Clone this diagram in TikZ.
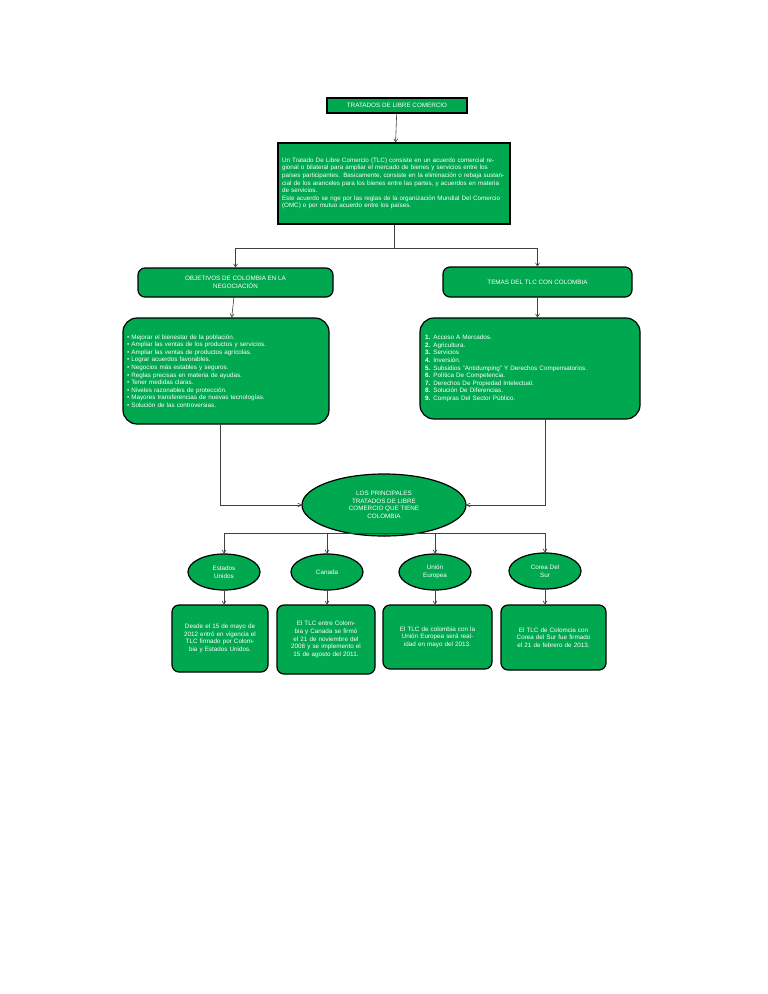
\documentclass[tikz,border=0pt]{standalone}
\usepackage{fontspec}
\setmainfont{Liberation Sans}
\usetikzlibrary{shapes.geometric,arrows.meta}
\definecolor{gr}{RGB}{0,168,80}
\begin{document}
\begin{tikzpicture}[x=1pt,y=-1pt,
 box/.style={draw=black,line width=1.2pt,fill=gr,text=white,font=\fontsize{6.3}{7.6}\selectfont,inner sep=3pt},
 rbox/.style={box,rounded corners=7pt},
 ell/.style={box,ellipse,inner sep=0pt},
 conn/.style={draw=black!75,line width=0.6pt},
 arr/.style={conn,-{Straight Barb[length=3pt,width=4pt]}}]
\path[use as bounding box,fill=white] (0,0) rectangle (768,994);
\node[box,minimum width=140pt,minimum height=15pt] (t) at (397,105.5) {TRATADOS DE LIBRE COMERCIO};
\node[box,minimum width=232pt,minimum height=81pt,align=left,text width=224pt] (d) at (394,183.5) {Un Tratado De Libre Comercio (TLC) consiste en un acuerdo comercial regional o bilateral para ampliar el mercado de bienes y servicios entre los países participantes. Basicamente, consiste en la eliminación o rebaja sustancial de los aranceles para los bienes entre las partes, y acuerdos en materia de servicios.\\Este acuerdo se rige por las reglas de la organización Mundial Del Comercio (OMC) o por mutuo acuerdo entre los países.};
\node[rbox,minimum width=195pt,minimum height=29pt,align=center] (o) at (235.5,282.5) {OBJETIVOS DE COLOMBIA EN LA\\NEGOCIACIÓN};
\node[rbox,minimum width=189pt,minimum height=30pt] (m) at (537.5,282) {TEMAS DEL TLC CON COLOMBIA};
\node[rbox,rounded corners=14pt,minimum width=206pt,minimum height=106pt,align=left,text width=198pt] (ol) at (226,371) {• Mejorar el bienestar de la población.\\• Ampliar las ventas de los productos y servicios.\\• Ampliar las ventas de productos agrícolas.\\• Lograr acuerdos favorables.\\• Negocios más estables y seguros.\\• Reglas precisas en materia de ayudas.\\• Tener medidas claras.\\• Niveles razonables de protección.\\• Mayores transferencias de nuevas tecnologías.\\• Solución de las controversias.};
\node[rbox,rounded corners=14pt,minimum width=220pt,minimum height=101pt,align=left,text width=210pt] (ml) at (530,368.5) {\textbf{1.} Acceso A Mercados.\\\textbf{2.} Agricultura.\\\textbf{3.} Servicios\\\textbf{4.} Inversión.\\\textbf{5.} Subsidios "Antidumping" Y Derechos Compensatorios.\\\textbf{6.} Política De Competencia.\\\textbf{7.} Derechos De Propiedad Intelectual.\\\textbf{8.} Solución De Diferencias.\\\textbf{9.} Compras Del Sector Público.};
\node[ell,minimum width=164pt,minimum height=62pt,align=center] (e) at (384,505) {LOS PRINCIPALES\\TRATADOS DE LIBRE\\COMERCIO QUE TIENE\\COLOMBIA};
\node[ell,minimum width=72pt,minimum height=36pt,align=center] (e1) at (224,572) {Estados\\Unidos};
\node[ell,minimum width=72pt,minimum height=36pt,align=center] (e2) at (327,572) {Canada};
\node[ell,minimum width=72pt,minimum height=36pt,align=center] (e3) at (435,572) {Unión\\Europea};
\node[ell,minimum width=72pt,minimum height=36pt,align=center] (e4) at (545,571) {Corea Del\\Sur};
\node[rbox,minimum width=96pt,minimum height=67pt,align=center,text width=88pt] (b1) at (220,638.5) {Desde el 15 de mayo de 2012 entró en vigencia el TLC firmado por Colombia y Estados Unidos.};
\node[rbox,minimum width=98pt,minimum height=69pt,align=center,text width=90pt] (b2) at (326,639.5) {El TLC entre Colombia y Canada se firmó el 21 de noviembre del 2008 y se implemento el 15 de agosto del 2011.};
\node[rbox,minimum width=109pt,minimum height=64pt,align=center,text width=96pt] (b3) at (437.5,637) {El TLC de colombia con la Unión Europea será realidad en mayo del 2013.};
\node[rbox,minimum width=105pt,minimum height=65pt,align=center,text width=94pt] (b4) at (553.5,637.5) {El TLC de Colomcia con Corea del Sur fue firmado el 21 de febrero de 2013.};
\draw[arr] (t) -- (d);
\coordinate (j) at (394,248);
\draw[conn] (d.south) -- (j);
\draw[arr] (j) -| (o.north);
\draw[arr] (j) -| (m.north);
\draw[arr] (o) -- (ol);
\draw[arr] (m.south) -- (m.south|-ml.north);
\draw[arr] (ol.south-|220,0) |- (e.west);
\draw[arr] (ml.south-|545,0) |- (e.east);
\coordinate (k) at (384,533);
\draw[conn] (e.south) -- (k);
\draw[arr] (k) -| (e1.north);
\draw[arr] (k) -| (e2.north);
\draw[arr] (k) -| (e3.north);
\draw[arr] (k) -| (e4.north);
\draw[arr] (e1.south) -- (e1.south|-b1.north);
\draw[arr] (e2.south) -- (e2.south|-b2.north);
\draw[arr] (e3.south) -- (e3.south|-b3.north);
\draw[arr] (e4.south) -- (e4.south|-b4.north);
\end{tikzpicture}
\end{document}
